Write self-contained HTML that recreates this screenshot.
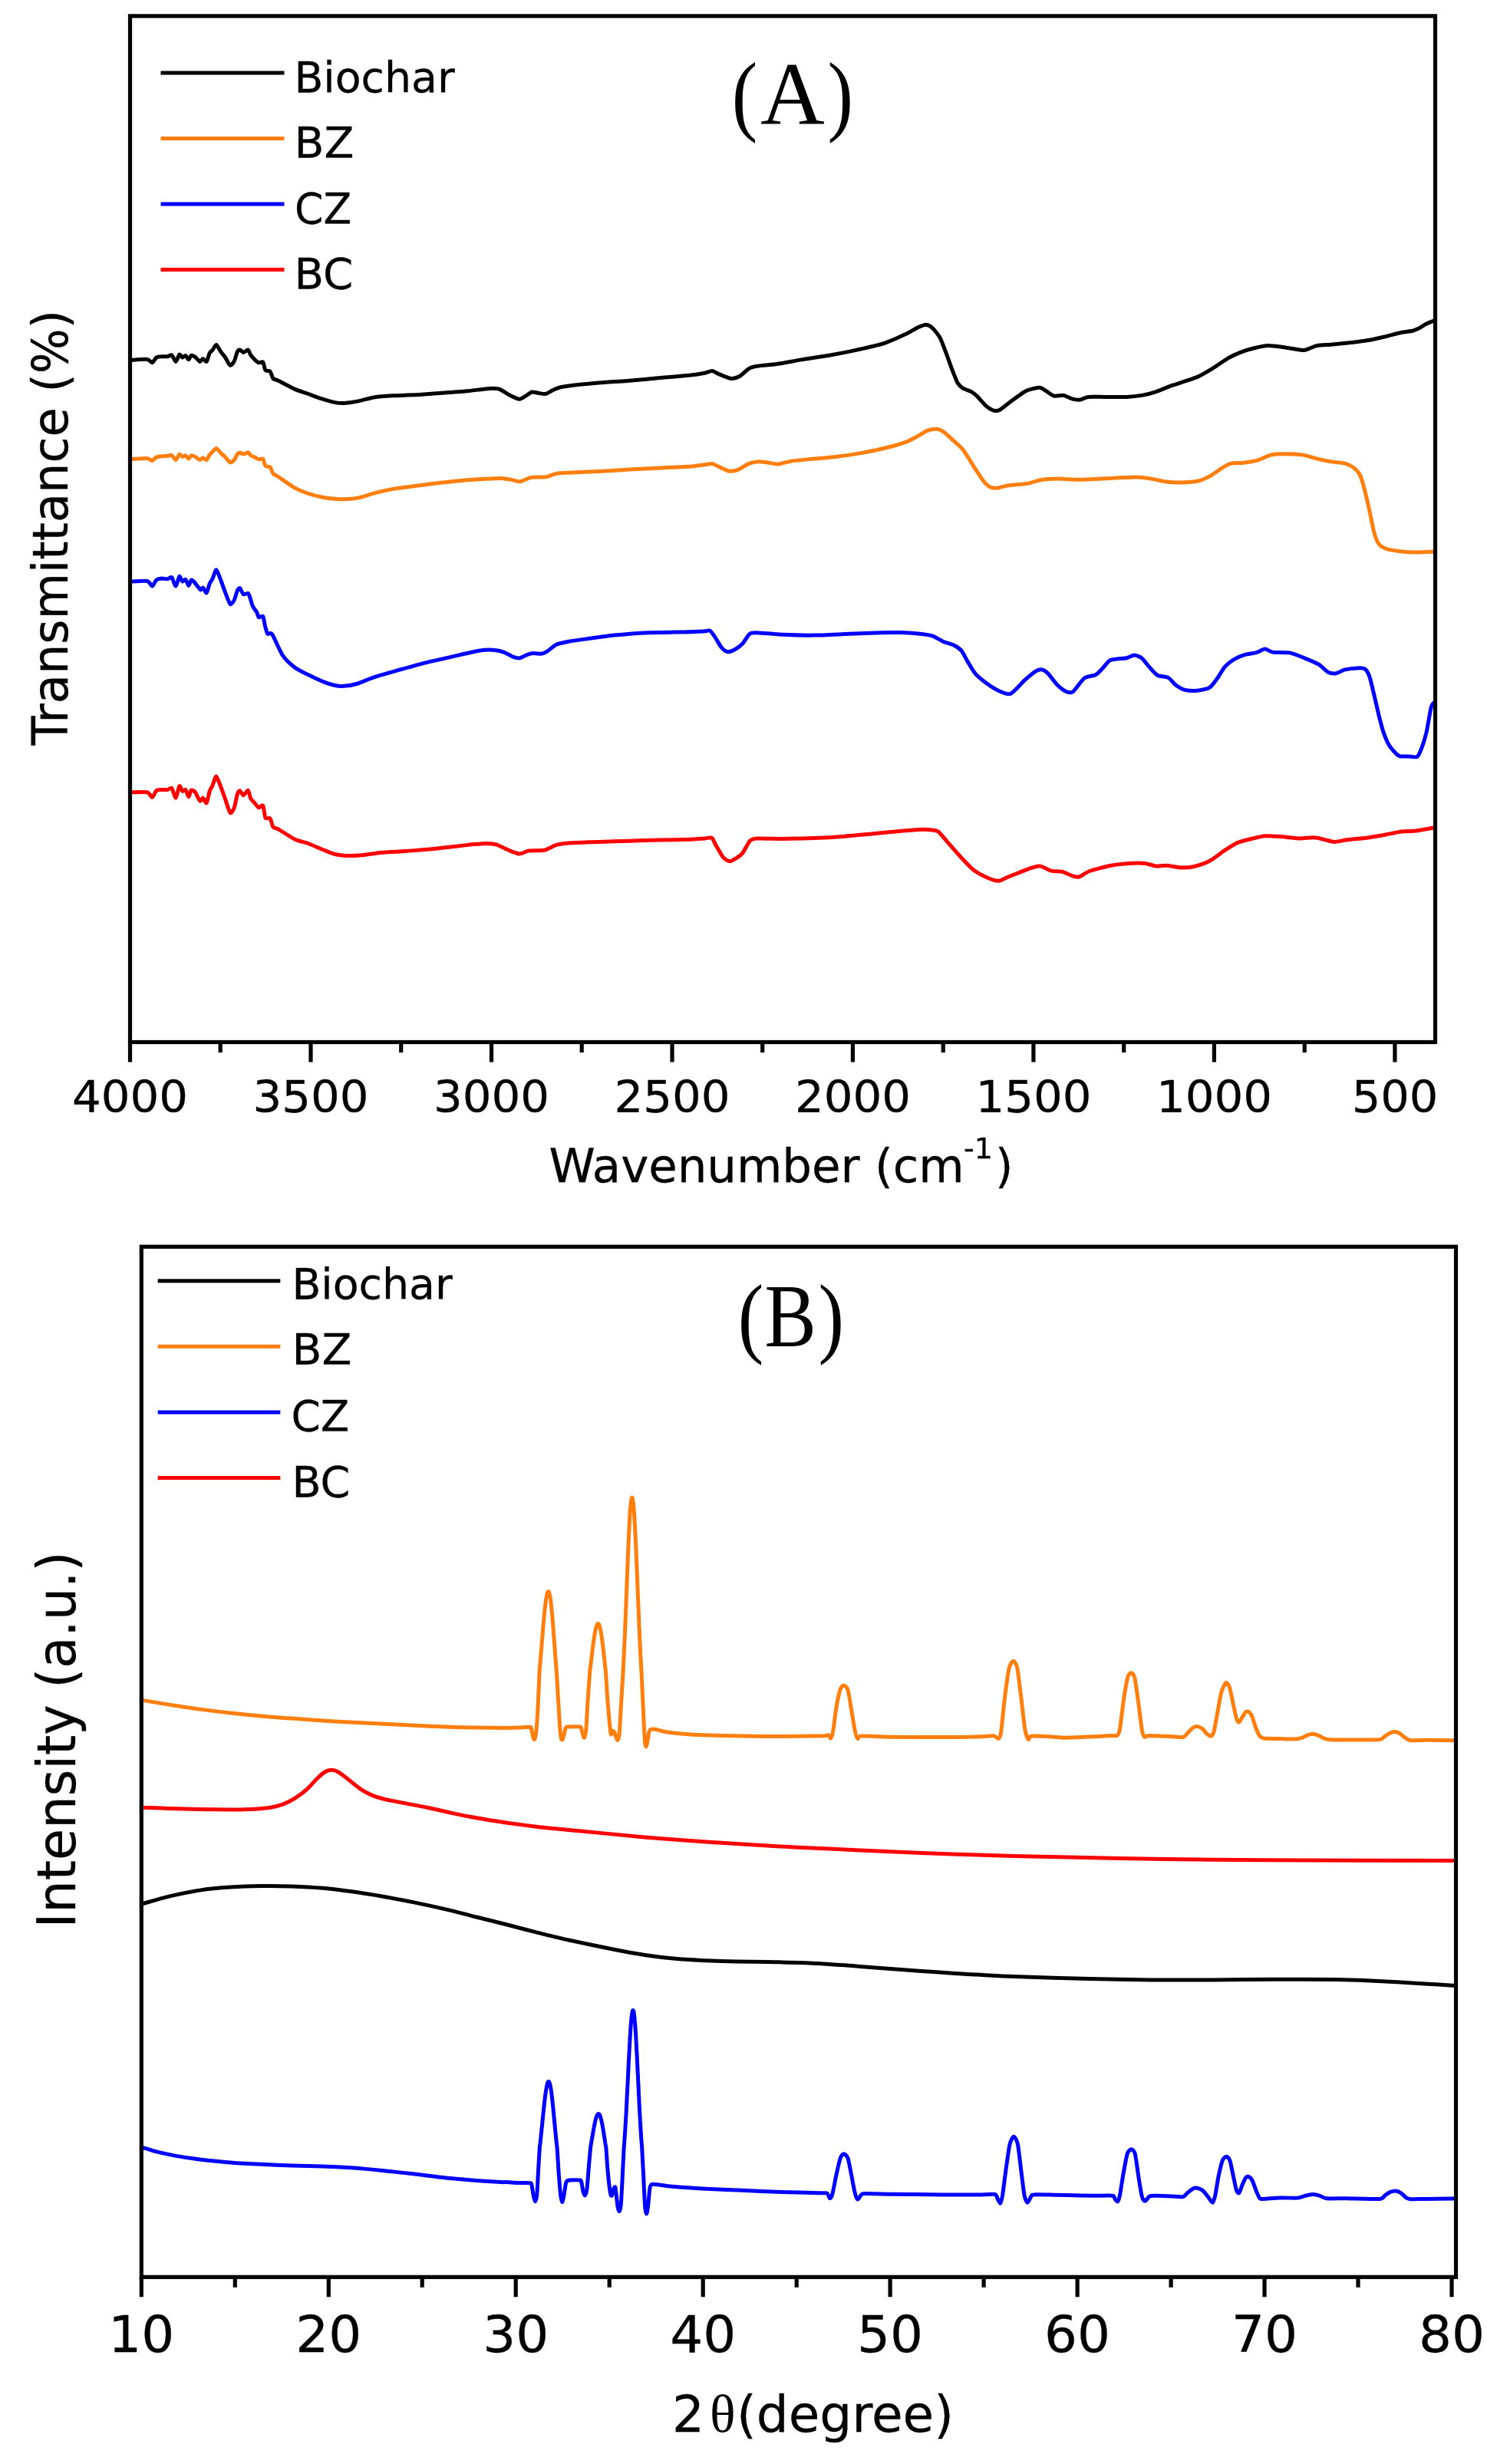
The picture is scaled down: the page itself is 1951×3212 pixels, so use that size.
<!DOCTYPE html>
<html lang="en"><head><meta charset="utf-8"><title>FTIR and XRD</title>
<style>html,body{margin:0;padding:0;background:#fff}svg{display:block;filter:blur(0.6px)}text{font-family:'DejaVu Sans','Liberation Sans',sans-serif;fill:#000;stroke:#000;stroke-width:0.3}.sf{font-family:'Liberation Serif','DejaVu Serif',serif;stroke:none}.c{fill:none;stroke-width:5;stroke-linejoin:round;stroke-linecap:butt}.ax{fill:none;stroke:#000;stroke-width:5.2}.tk{stroke:#000;stroke-width:5.2;fill:none}</style></head><body>
<svg width="1951" height="3212" viewBox="0 0 1951 3212">
<rect width="1951" height="3212" fill="#fff"/>
<g id="chartA">
<path class="c" stroke="#000000" d="M169.5 469.4C172.1 469.3 188.3 468.0 191.7 468.4C195.1 468.8 197.0 473.0 198.4 472.8C199.8 472.5 202.3 467.0 203.7 466.1C205.1 465.2 208.7 464.9 210.4 464.8C212.1 464.6 216.9 465.0 218.4 464.8C220.0 464.5 222.5 462.0 223.8 462.8C225.0 463.5 228.0 471.5 229.1 471.4C230.3 471.4 232.8 462.7 233.8 462.1C234.8 461.5 236.9 465.9 237.8 466.1C238.7 466.2 240.9 463.1 241.8 463.4C242.8 463.7 245.0 468.8 245.8 468.8C246.7 468.8 248.2 463.8 249.2 463.4C250.2 463.0 253.2 464.5 254.5 465.4C255.8 466.4 259.4 471.2 260.5 471.4C261.7 471.7 263.5 467.4 264.5 467.4C265.5 467.4 268.2 472.3 269.2 471.4C270.2 470.6 272.3 461.9 273.2 460.1C274.2 458.3 276.2 457.3 277.2 456.1C278.2 454.8 280.7 449.1 281.9 449.4C283.1 449.7 286.6 456.9 287.9 458.7C289.2 460.6 291.9 463.4 293.3 465.4C294.7 467.5 298.5 475.5 299.9 476.1C301.3 476.7 304.2 472.8 305.3 470.8C306.4 468.7 308.4 460.5 309.3 458.7C310.1 457.0 311.7 456.0 312.6 456.1C313.6 456.2 316.1 459.4 317.3 459.4C318.6 459.4 322.2 455.7 323.3 456.1C324.4 456.5 325.6 461.3 326.7 462.8C327.7 464.2 330.8 467.6 332.0 468.8C333.2 469.9 336.1 472.4 337.3 472.8C338.6 473.2 341.7 470.9 342.7 472.1C343.7 473.3 344.9 481.4 346.0 482.8C347.1 484.2 350.9 482.9 352.0 484.1C353.2 485.4 354.8 492.1 356.0 493.5C357.3 494.9 359.4 494.5 362.7 496.2C366.0 497.8 380.0 505.4 384.4 507.4C388.9 509.4 396.3 511.5 400.5 513.0C404.7 514.5 416.3 518.9 420.5 520.2C424.7 521.6 433.3 524.0 436.6 524.6C439.8 525.3 445.3 525.6 448.6 525.5C451.9 525.3 459.9 524.3 464.6 523.4C469.3 522.6 483.0 518.7 488.7 517.8C494.3 516.9 506.2 516.2 512.7 515.8C519.3 515.5 537.3 515.1 544.8 514.6C552.3 514.2 569.4 512.8 576.8 512.2C584.3 511.7 602.8 510.4 608.9 509.8C615.0 509.3 625.2 507.8 628.9 507.4C632.7 507.0 638.4 506.2 641.0 506.2C643.5 506.2 648.2 506.3 651.0 507.4C653.8 508.5 662.0 513.9 665.0 515.4C668.0 516.9 674.7 520.1 677.0 520.2C679.4 520.3 683.2 517.3 685.1 516.2C686.9 515.2 691.2 511.5 693.1 511.0C694.9 510.6 699.0 511.9 701.1 512.2C703.2 512.5 708.8 513.9 711.1 513.4C713.4 513.0 718.6 509.3 721.1 508.2C723.7 507.1 726.3 505.3 733.1 504.2C740.0 503.1 769.9 499.9 780.1 499.0C790.2 498.1 810.8 496.9 820.2 496.2C829.5 495.4 850.9 493.4 860.2 492.6C869.6 491.7 893.5 489.7 900.3 489.0C907.1 488.2 915.1 486.8 918.4 486.2C921.6 485.5 926.3 483.2 928.4 483.4C930.5 483.5 933.6 486.2 936.4 487.4C939.2 488.5 949.2 493.1 952.4 493.4C955.7 493.7 961.6 491.7 964.4 490.2C967.3 488.6 973.7 481.7 976.5 480.2C979.3 478.6 984.3 477.6 988.5 477.0C992.7 476.3 1006.0 475.5 1012.5 474.5C1019.1 473.6 1036.7 470.2 1044.6 468.9C1052.6 467.6 1072.3 464.8 1080.7 463.3C1089.1 461.8 1108.3 458.0 1116.8 456.1C1125.2 454.2 1145.3 449.7 1152.8 447.3C1160.3 444.9 1175.7 437.7 1180.9 435.3C1186.0 432.8 1193.9 427.9 1196.9 426.5C1200.0 425.1 1204.8 423.2 1206.9 423.2C1209.0 423.3 1212.8 425.3 1214.9 427.3C1217.1 429.2 1222.9 436.2 1225.0 440.1C1227.1 443.9 1231.1 455.2 1233.0 460.1C1234.9 465.0 1239.2 477.6 1241.0 482.2C1242.8 486.7 1246.6 496.6 1248.2 499.4C1249.9 502.2 1253.1 504.9 1255.0 506.2C1257.0 507.5 1262.9 509.1 1265.1 510.2C1267.2 511.4 1270.7 514.0 1273.1 516.2C1275.4 518.4 1282.5 526.9 1285.1 529.1C1287.7 531.3 1293.0 534.5 1295.1 535.1C1297.2 535.7 1300.6 535.6 1303.1 534.3C1305.7 532.9 1313.3 526.3 1317.2 523.4C1321.0 520.6 1332.4 512.2 1336.0 510.2C1339.6 508.2 1345.7 506.8 1348.1 506.2C1350.4 505.7 1354.2 504.9 1356.1 505.4C1357.9 505.9 1362.0 509.0 1364.1 510.2C1366.2 511.5 1371.5 515.6 1374.1 516.2C1376.7 516.8 1383.3 515.0 1386.1 515.4C1388.9 515.9 1395.6 519.6 1398.2 520.2C1400.7 520.9 1405.8 521.4 1408.2 521.0C1410.5 520.7 1414.5 517.9 1418.2 517.4C1421.9 517.0 1434.4 517.4 1440.2 517.4C1446.1 517.4 1462.7 517.7 1468.3 517.4C1473.9 517.2 1484.1 516.1 1488.3 515.4C1492.5 514.7 1499.7 513.0 1504.4 511.4C1509.0 509.9 1521.9 504.5 1528.4 502.2C1535.0 499.9 1554.4 494.0 1560.5 491.4C1566.6 488.8 1575.8 483.0 1580.5 480.2C1585.2 477.3 1596.4 469.4 1600.6 466.9C1604.8 464.5 1612.4 460.9 1616.6 459.3C1620.8 457.7 1632.4 454.3 1636.6 453.3C1640.8 452.3 1648.9 450.6 1652.7 450.5C1656.4 450.4 1665.0 451.6 1668.7 452.1C1672.4 452.6 1681.2 454.0 1684.7 454.5C1688.2 455.0 1696.2 456.6 1698.8 456.5C1701.3 456.5 1704.7 454.8 1706.8 454.1C1708.9 453.4 1713.3 451.1 1716.8 450.5C1720.3 449.9 1731.7 449.4 1736.8 448.9C1742.0 448.4 1755.3 447.1 1760.9 446.5C1766.5 445.8 1779.8 444.2 1784.9 443.3C1790.1 442.4 1800.3 440.0 1805.0 438.9C1809.6 437.8 1820.8 434.6 1825.0 433.7C1829.2 432.8 1838.2 431.9 1841.0 431.3C1843.8 430.6 1847.0 429.1 1849.1 428.1C1851.2 427.0 1856.7 423.2 1859.1 422.0C1861.4 420.9 1867.9 418.5 1869.1 418.0"/>
<path class="c" stroke="#FF7F0E" d="M169.5 598.4C172.1 598.3 188.3 597.2 191.7 597.4C195.1 597.7 197.0 600.7 198.4 600.5C199.8 600.3 202.3 596.8 203.7 596.1C205.1 595.4 208.7 594.9 210.4 594.8C212.1 594.6 216.9 594.6 218.4 594.5C220.0 594.3 222.5 592.8 223.8 593.4C225.0 594.0 228.0 599.6 229.1 599.4C230.3 599.3 232.8 592.6 233.8 592.1C234.8 591.6 236.9 595.2 237.8 595.4C238.7 595.6 240.9 593.5 241.8 593.8C242.8 594.1 245.0 598.1 245.8 598.1C246.7 598.1 248.2 594.1 249.2 593.8C250.2 593.5 253.2 594.8 254.5 595.4C255.8 596.1 259.4 599.3 260.5 599.4C261.7 599.6 263.5 596.7 264.5 596.8C265.5 596.8 268.2 600.2 269.2 599.7C270.2 599.2 272.3 594.0 273.2 592.8C274.2 591.5 276.2 589.7 277.2 588.7C278.2 587.8 280.7 584.2 281.9 584.5C283.1 584.7 286.6 589.5 287.9 590.7C289.2 592.0 291.9 594.0 293.3 595.4C294.7 596.8 298.5 602.3 299.9 602.8C301.3 603.2 304.2 600.7 305.3 599.4C306.4 598.2 308.4 593.2 309.3 592.1C310.1 591.0 311.7 590.1 312.6 590.1C313.6 590.1 316.1 592.1 317.3 592.1C318.6 592.1 322.2 589.7 323.3 589.8C324.4 590.0 325.6 592.7 326.7 593.4C327.7 594.2 330.8 595.5 332.0 596.1C333.2 596.7 336.1 598.5 337.3 598.8C338.6 599.0 341.7 597.1 342.7 598.1C343.7 599.1 344.9 606.2 346.0 607.4C347.1 608.7 350.9 607.6 352.0 608.8C353.2 610.0 354.8 616.0 356.0 617.5C357.3 618.9 359.4 619.3 362.7 621.5C366.0 623.7 380.0 633.7 384.4 636.2C388.9 638.7 396.3 641.6 400.5 643.0C404.7 644.4 415.8 647.3 420.5 648.2C425.2 649.1 436.8 650.3 440.6 650.6C444.3 650.9 449.3 650.9 452.6 650.6C455.9 650.4 464.4 649.6 468.6 648.6C472.8 647.7 483.5 643.9 488.7 642.6C493.8 641.3 506.2 638.5 512.7 637.4C519.3 636.3 537.3 634.0 544.8 633.0C552.3 632.0 569.4 629.8 576.8 629.0C584.3 628.1 602.4 626.3 608.9 625.8C615.4 625.2 627.8 624.4 632.9 624.2C638.1 623.9 649.2 623.3 653.0 623.4C656.7 623.5 662.2 624.5 665.0 625.0C667.8 625.5 674.7 627.8 677.0 627.8C679.4 627.8 683.2 625.6 685.1 625.0C686.9 624.3 690.0 622.5 693.1 622.2C696.1 621.8 707.4 622.3 711.1 621.8C714.8 621.2 721.6 618.0 725.1 617.4C728.6 616.7 734.8 616.5 741.2 616.2C747.6 615.8 770.9 615.0 780.1 614.5C789.3 614.1 810.8 612.7 820.2 612.1C829.5 611.6 850.9 610.6 860.2 610.1C869.6 609.7 893.5 608.7 900.3 608.1C907.1 607.6 915.1 606.2 918.4 605.7C921.6 605.3 926.3 604.2 928.4 604.5C930.5 604.8 933.8 607.0 936.4 608.1C939.0 609.3 947.4 613.7 950.4 614.1C953.5 614.6 959.4 613.3 962.4 612.1C965.5 611.0 973.4 605.3 976.5 604.1C979.5 602.9 985.7 601.9 988.5 601.7C991.3 601.6 997.5 602.6 1000.5 602.9C1003.6 603.3 1010.8 605.2 1014.5 604.9C1018.3 604.7 1027.2 601.7 1032.6 600.9C1038.0 600.1 1053.6 598.8 1060.6 598.1C1067.7 597.4 1085.2 595.8 1092.7 594.9C1100.2 594.0 1117.3 591.5 1124.8 590.1C1132.3 588.7 1150.3 584.9 1156.8 583.3C1163.4 581.6 1176.2 577.8 1180.9 576.1C1185.6 574.3 1193.6 569.8 1196.9 568.1C1200.2 566.3 1206.1 562.3 1208.9 561.2C1211.7 560.2 1218.6 559.1 1221.0 559.2C1223.3 559.4 1226.6 560.9 1229.0 562.4C1231.3 564.0 1238.0 570.1 1241.0 572.9C1244.0 575.6 1251.8 582.0 1255.0 586.1C1258.3 590.2 1266.0 603.5 1269.1 608.1C1272.1 612.8 1278.7 623.1 1281.1 626.2C1283.5 629.3 1287.8 633.4 1289.9 634.6C1292.0 635.8 1296.4 636.4 1299.1 636.2C1301.8 636.0 1308.4 633.7 1313.1 633.0C1317.9 632.3 1335.0 631.0 1340.0 630.1C1345.0 629.3 1351.4 626.4 1356.1 625.7C1360.7 625.0 1374.0 624.2 1380.1 624.1C1386.2 624.1 1401.2 625.4 1408.2 625.3C1415.2 625.3 1431.8 624.1 1440.2 623.7C1448.7 623.4 1473.3 622.1 1480.3 622.1C1487.3 622.2 1495.7 623.4 1500.4 624.1C1505.0 624.8 1515.7 627.6 1520.4 628.1C1525.1 628.7 1535.8 629.0 1540.4 628.9C1545.1 628.8 1556.3 628.3 1560.5 627.3C1564.7 626.4 1572.8 622.9 1576.5 620.9C1580.3 618.9 1589.3 612.1 1592.5 610.1C1595.8 608.1 1601.3 604.9 1604.6 604.1C1607.8 603.3 1616.6 603.8 1620.6 603.3C1624.6 602.8 1634.4 601.3 1638.6 600.1C1642.8 598.9 1652.7 593.8 1656.7 592.9C1660.6 591.9 1668.0 591.7 1672.7 591.7C1677.4 591.7 1691.6 592.1 1696.8 592.9C1701.9 593.6 1712.1 597.0 1716.8 598.1C1721.5 599.2 1732.6 601.4 1736.8 602.1C1741.0 602.8 1749.6 603.2 1752.9 604.1C1756.1 605.0 1762.6 608.2 1764.9 610.1C1767.2 612.0 1771.3 616.6 1772.9 620.1C1774.5 623.6 1777.5 634.8 1778.9 640.2C1780.3 645.5 1783.5 659.9 1784.9 666.2C1786.3 672.5 1789.5 689.3 1790.9 694.3C1792.3 699.3 1795.1 706.6 1797.0 709.1C1798.8 711.6 1803.7 714.4 1807.0 715.5C1810.2 716.6 1820.6 718.2 1825.0 718.7C1829.5 719.2 1839.9 719.9 1845.1 719.9C1850.2 720.0 1866.3 719.2 1869.1 719.1"/>
<path class="c" stroke="#0000FF" d="M169.5 758.1C172.1 758.0 188.3 756.7 191.7 757.4C195.1 758.1 197.0 764.2 198.4 764.1C199.8 763.9 202.3 757.2 203.7 756.1C205.1 754.9 208.7 754.2 210.4 754.0C212.1 753.9 216.9 754.9 218.4 754.7C220.0 754.6 222.5 751.6 223.8 752.7C225.0 753.8 228.0 764.2 229.1 764.1C230.3 763.9 232.8 752.1 233.8 751.4C234.8 750.7 236.9 757.6 237.8 758.1C238.7 758.5 240.9 754.8 241.8 755.4C242.8 756.0 245.0 763.3 245.8 763.4C246.7 763.5 248.3 756.6 249.2 756.1C250.0 755.5 251.8 757.2 253.2 758.7C254.6 760.2 259.9 767.9 261.2 768.7C262.5 769.6 263.6 765.6 264.5 766.1C265.5 766.5 268.2 773.4 269.2 772.8C270.2 772.1 272.3 762.9 273.2 760.7C274.2 758.5 276.2 756.2 277.2 754.0C278.2 751.9 280.7 742.4 281.9 742.7C283.1 743.0 286.6 753.4 287.9 756.7C289.2 760.1 291.9 767.8 293.3 771.4C294.7 775.0 298.5 786.2 299.9 787.4C301.3 788.7 304.2 784.1 305.3 782.1C306.4 780.1 308.4 771.9 309.3 770.1C310.1 768.3 311.7 766.2 312.6 766.7C313.6 767.3 316.1 774.0 317.3 774.8C318.6 775.5 322.3 772.9 323.3 773.4C324.3 774.0 325.3 777.5 326.0 779.4C326.7 781.4 328.3 787.9 329.3 790.1C330.3 792.3 333.7 796.4 334.7 798.1C335.6 799.9 336.4 804.2 337.3 804.8C338.3 805.4 341.8 802.2 342.7 803.5C343.6 804.7 344.7 812.9 345.4 815.5C346.1 818.2 347.6 824.9 348.7 826.2C349.8 827.5 352.4 823.6 354.7 826.9C357.0 830.1 364.9 849.2 368.4 854.3C371.9 859.3 380.7 867.4 384.4 870.3C388.2 873.2 396.3 877.0 400.5 879.1C404.7 881.2 416.3 886.7 420.5 888.3C424.7 890.0 433.3 892.8 436.6 893.5C439.8 894.2 445.3 894.6 448.6 894.3C451.9 894.1 459.9 892.9 464.6 891.5C469.3 890.1 482.1 884.5 488.7 882.3C495.2 880.2 513.2 875.2 520.7 873.1C528.2 871.0 545.3 866.2 552.8 864.3C560.3 862.4 578.3 858.6 584.8 857.1C591.4 855.6 603.8 852.6 608.9 851.5C614.0 850.3 624.7 847.9 628.9 847.5C633.1 847.0 641.7 847.1 645.0 847.5C648.2 847.8 654.2 849.2 657.0 850.3C659.8 851.3 666.7 855.4 669.0 856.3C671.4 857.2 674.9 858.2 677.0 857.9C679.1 857.5 684.9 854.2 687.1 853.5C689.2 852.7 693.0 851.6 695.1 851.5C697.2 851.3 703.0 852.5 705.1 852.3C707.2 852.0 710.8 850.5 713.1 849.1C715.4 847.7 721.9 841.7 725.1 840.2C728.4 838.7 736.6 837.1 741.2 836.2C745.7 835.4 757.2 833.9 764.0 832.9C770.9 832.0 791.2 829.1 800.1 828.1C809.0 827.2 830.8 825.4 840.2 824.9C849.6 824.5 871.4 824.4 880.3 824.1C889.2 823.9 911.1 823.2 916.4 822.9C921.6 822.7 923.4 821.3 925.2 822.1C926.9 823.0 929.8 827.6 931.6 830.1C933.4 832.7 938.4 841.9 940.4 844.2C942.4 846.5 946.3 849.5 948.4 849.8C950.5 850.0 956.1 847.5 958.4 846.2C960.8 844.8 966.3 840.5 968.5 838.2C970.7 835.8 974.9 827.7 977.3 826.1C979.6 824.6 983.4 824.8 988.5 824.9C993.5 825.1 1012.1 827.0 1020.6 827.3C1029.0 827.7 1051.3 828.2 1060.6 828.1C1070.0 828.0 1091.4 826.9 1100.7 826.5C1110.1 826.2 1132.4 825.2 1140.8 824.9C1149.2 824.7 1166.3 824.4 1172.9 824.5C1179.4 824.7 1192.0 825.6 1196.9 826.1C1201.8 826.6 1211.2 827.8 1214.9 828.9C1218.7 830.1 1225.7 834.7 1229.0 836.2C1232.3 837.6 1240.2 839.6 1243.0 841.0C1245.8 842.4 1250.9 845.7 1253.0 848.2C1255.1 850.7 1258.9 858.7 1261.0 862.2C1263.1 865.7 1268.3 875.0 1271.1 878.2C1273.9 881.5 1281.6 887.7 1285.1 890.3C1288.6 892.8 1297.4 898.6 1301.1 900.3C1304.9 901.9 1313.1 905.9 1317.2 904.3C1321.2 902.6 1332.2 889.6 1336.0 886.2C1339.9 882.7 1347.5 876.5 1350.1 874.9C1352.6 873.4 1356.2 872.6 1358.1 872.9C1359.9 873.3 1363.8 875.8 1366.1 878.2C1368.4 880.5 1375.3 890.2 1378.1 893.0C1380.9 895.7 1387.8 900.8 1390.1 901.8C1392.5 902.8 1396.3 902.9 1398.2 901.8C1400.0 900.7 1404.3 894.3 1406.2 892.2C1408.0 890.0 1411.6 884.9 1414.2 883.4C1416.8 881.9 1425.6 880.7 1428.2 879.4C1430.8 878.0 1434.1 874.3 1436.2 872.1C1438.3 870.0 1443.9 862.5 1446.3 860.9C1448.6 859.4 1453.7 859.3 1456.3 858.9C1458.8 858.5 1465.7 858.3 1468.3 857.7C1470.9 857.2 1476.0 854.1 1478.3 854.1C1480.7 854.2 1486.0 856.2 1488.3 858.1C1490.7 860.0 1496.0 867.6 1498.4 870.1C1500.7 872.7 1505.6 878.6 1508.4 880.2C1511.2 881.7 1519.6 881.9 1522.4 883.4C1525.2 884.9 1529.9 891.1 1532.4 893.0C1535.0 894.9 1541.2 898.6 1544.4 899.4C1547.7 900.2 1556.7 900.6 1560.5 900.2C1564.2 899.8 1573.5 898.1 1576.5 896.2C1579.6 894.3 1584.2 887.3 1586.5 884.2C1588.9 881.0 1594.0 871.8 1596.6 868.9C1599.1 866.0 1605.5 861.1 1608.6 859.3C1611.6 857.5 1619.3 854.3 1622.6 853.3C1625.9 852.3 1633.6 851.7 1636.6 850.9C1639.7 850.1 1646.1 846.2 1648.7 846.1C1651.2 846.0 1654.9 849.5 1658.7 850.1C1662.4 850.7 1675.8 850.0 1680.7 850.9C1685.6 851.8 1696.3 856.3 1700.8 858.1C1705.2 859.9 1715.3 864.0 1718.8 866.1C1722.3 868.2 1728.2 874.8 1730.8 876.2C1733.4 877.5 1738.3 878.1 1740.8 877.8C1743.4 877.4 1749.6 873.7 1752.9 872.9C1756.1 872.2 1765.9 871.0 1768.9 870.9C1771.9 870.8 1777.0 870.8 1778.9 872.1C1780.8 873.5 1783.5 878.2 1784.9 882.2C1786.3 886.1 1789.5 900.4 1790.9 906.2C1792.3 912.1 1795.6 926.7 1797.0 932.3C1798.4 937.9 1801.3 949.6 1803.0 954.3C1804.6 959.0 1808.6 968.7 1811.0 972.3C1813.3 975.9 1820.0 983.6 1823.0 985.2C1826.0 986.8 1834.2 985.8 1837.0 986.0C1839.8 986.1 1845.2 987.7 1847.1 986.4C1848.9 985.0 1851.7 978.1 1853.1 974.3C1854.5 970.6 1857.7 960.4 1859.1 954.3C1860.5 948.2 1864.0 926.7 1865.1 922.2C1866.2 917.8 1867.8 917.1 1868.3 916.2C1868.8 915.4 1869.4 915.2 1869.5 915.0"/>
<path class="c" stroke="#FF0000" d="M169.5 1033.0C172.1 1033.0 188.3 1032.0 191.7 1032.8C195.1 1033.5 197.0 1039.7 198.4 1039.4C199.8 1039.2 202.3 1031.9 203.7 1030.7C205.1 1029.6 208.7 1029.6 210.4 1029.4C212.1 1029.3 216.9 1029.6 218.4 1029.4C220.0 1029.2 222.5 1026.2 223.8 1027.4C225.0 1028.7 228.0 1040.4 229.1 1040.1C230.3 1039.8 232.8 1025.7 233.8 1024.7C234.8 1023.7 236.9 1030.9 237.8 1031.4C238.7 1032.0 240.9 1028.6 241.8 1029.4C242.8 1030.3 245.0 1038.7 245.8 1038.8C246.7 1038.8 248.2 1030.8 249.2 1030.1C250.2 1029.4 253.2 1031.1 254.5 1032.8C255.8 1034.4 259.4 1043.3 260.5 1044.1C261.7 1045.0 263.5 1039.8 264.5 1040.1C265.5 1040.4 268.2 1047.8 269.2 1046.8C270.2 1045.8 272.3 1034.1 273.2 1031.4C274.2 1028.7 276.2 1025.7 277.2 1023.4C278.2 1021.1 280.7 1011.7 281.9 1012.0C283.1 1012.4 286.6 1022.7 287.9 1026.1C289.2 1029.4 291.9 1036.9 293.3 1040.8C294.7 1044.7 298.5 1058.1 299.9 1059.5C301.3 1060.9 304.2 1055.6 305.3 1052.8C306.4 1050.0 308.4 1038.0 309.3 1035.4C310.1 1032.9 311.7 1030.6 312.6 1030.7C313.6 1030.9 316.1 1036.8 317.3 1036.8C318.6 1036.7 322.2 1029.6 323.3 1030.1C324.4 1030.5 325.6 1038.8 326.7 1040.8C327.7 1042.7 330.8 1045.4 332.0 1046.8C333.2 1048.2 336.1 1052.4 337.3 1052.8C338.6 1053.2 341.7 1048.6 342.7 1050.1C343.7 1051.7 344.9 1064.2 346.0 1066.2C347.1 1068.1 350.9 1065.4 352.0 1066.8C353.2 1068.2 354.8 1076.5 356.0 1078.2C357.3 1079.8 359.4 1079.0 362.7 1080.8C366.0 1082.7 380.0 1092.1 384.4 1094.2C388.9 1096.4 396.3 1097.5 400.5 1099.0C404.7 1100.6 416.3 1105.8 420.5 1107.5C424.7 1109.1 432.8 1112.5 436.6 1113.5C440.3 1114.4 448.4 1115.3 452.6 1115.5C456.8 1115.6 467.5 1115.1 472.6 1114.7C477.8 1114.2 490.1 1112.1 496.7 1111.5C503.2 1110.9 521.3 1110.0 528.7 1109.5C536.2 1108.9 553.3 1107.8 560.8 1107.1C568.3 1106.4 586.3 1104.2 592.9 1103.4C599.4 1102.7 612.0 1101.1 616.9 1100.6C621.8 1100.2 631.4 1099.4 634.9 1099.4C638.5 1099.5 643.7 1100.0 647.0 1101.0C650.2 1102.1 659.5 1106.9 663.0 1108.3C666.5 1109.7 674.0 1113.0 677.0 1113.1C680.1 1113.2 685.3 1109.6 689.1 1109.1C692.8 1108.5 704.9 1109.1 709.1 1108.3C713.3 1107.4 721.4 1102.5 725.1 1101.4C728.9 1100.4 734.8 1099.5 741.2 1099.0C747.6 1098.6 770.9 1097.7 780.1 1097.4C789.3 1097.1 810.8 1096.5 820.2 1096.2C829.5 1095.9 850.9 1095.2 860.2 1095.0C869.6 1094.8 893.5 1094.4 900.3 1094.2C907.1 1094.0 915.2 1093.2 918.4 1093.0C921.5 1092.8 925.8 1091.1 927.6 1092.2C929.3 1093.3 931.5 1099.3 933.2 1102.2C934.9 1105.2 940.4 1115.1 942.4 1117.4C944.4 1119.8 948.6 1122.4 950.4 1122.6C952.3 1122.9 956.4 1120.7 958.4 1119.4C960.4 1118.2 965.5 1114.9 967.7 1112.2C969.9 1109.5 975.1 1098.4 977.3 1096.2C979.5 1093.9 981.4 1093.3 986.5 1093.0C991.5 1092.7 1011.9 1093.4 1020.6 1093.4C1029.2 1093.3 1051.3 1093.0 1060.6 1092.6C1070.0 1092.2 1091.4 1090.9 1100.7 1090.2C1110.1 1089.5 1132.4 1087.4 1140.8 1086.6C1149.2 1085.8 1166.3 1084.0 1172.9 1083.4C1179.4 1082.8 1192.2 1081.5 1196.9 1081.4C1201.6 1081.2 1209.9 1081.4 1212.9 1081.8C1216.0 1082.1 1220.2 1082.0 1223.0 1084.2C1225.8 1086.3 1233.5 1096.2 1237.0 1100.2C1240.5 1104.2 1249.3 1114.3 1253.0 1118.2C1256.8 1122.2 1265.1 1131.2 1269.1 1134.3C1273.0 1137.3 1283.4 1142.7 1287.1 1144.3C1290.8 1145.9 1298.1 1148.4 1301.1 1148.3C1304.2 1148.2 1309.1 1145.1 1313.1 1143.5C1317.2 1141.9 1332.0 1135.8 1336.0 1134.3C1340.1 1132.7 1345.7 1130.9 1348.1 1130.3C1350.4 1129.7 1353.5 1128.5 1356.1 1129.1C1358.6 1129.6 1366.8 1134.2 1370.1 1135.1C1373.4 1135.9 1380.9 1135.5 1384.1 1136.3C1387.4 1137.1 1395.6 1141.1 1398.2 1141.9C1400.7 1142.7 1403.6 1143.8 1406.2 1143.1C1408.7 1142.3 1415.3 1137.2 1420.2 1135.5C1425.1 1133.7 1442.2 1129.4 1448.3 1128.3C1454.3 1127.1 1467.2 1125.8 1472.3 1125.5C1477.4 1125.1 1488.4 1125.0 1492.3 1125.5C1496.3 1125.9 1503.1 1128.7 1506.4 1129.1C1509.6 1129.4 1516.4 1128.0 1520.4 1128.3C1524.4 1128.5 1536.2 1130.9 1540.4 1131.1C1544.6 1131.2 1552.3 1130.5 1556.5 1129.5C1560.7 1128.4 1571.8 1124.7 1576.5 1122.2C1581.2 1119.8 1592.3 1111.0 1596.6 1108.2C1600.8 1105.5 1608.4 1100.4 1612.6 1098.6C1616.8 1096.8 1628.4 1094.0 1632.6 1093.0C1636.8 1092.0 1644.4 1090.1 1648.7 1089.8C1652.9 1089.5 1663.6 1090.2 1668.7 1090.6C1673.8 1091.0 1687.6 1092.8 1692.7 1093.0C1697.9 1093.1 1709.0 1091.6 1712.8 1091.8C1716.5 1091.9 1721.8 1093.5 1724.8 1094.2C1727.8 1094.8 1735.1 1097.3 1738.8 1097.4C1742.6 1097.4 1752.0 1095.2 1756.9 1094.6C1761.8 1094.0 1775.3 1092.9 1780.9 1092.2C1786.5 1091.4 1799.8 1089.1 1805.0 1088.2C1810.1 1087.2 1820.3 1084.8 1825.0 1084.2C1829.7 1083.6 1840.0 1083.6 1845.1 1083.0C1850.1 1082.4 1865.4 1079.5 1868.3 1079.0C1869.5 1078.4 1869.4 1078.2 1869.5 1078.2"/>
<rect class="ax" x="169.5" y="20.9" width="1701.0" height="1337.6"/>
<path class="tk" d="M169.5 1358.5v26M405.0 1358.5v26M640.5 1358.5v26M876.0 1358.5v26M1111.4 1358.5v26M1346.9 1358.5v26M1582.4 1358.5v26M1817.9 1358.5v26M287.2 1358.5v13.5M522.7 1358.5v13.5M758.2 1358.5v13.5M993.7 1358.5v13.5M1229.2 1358.5v13.5M1464.7 1358.5v13.5M1700.2 1358.5v13.5"/>
<text x="169.5" y="1450.0" font-size="56.8" text-anchor="middle" textLength="151.0" lengthAdjust="spacingAndGlyphs">4000</text>
<text x="405.0" y="1450.0" font-size="56.8" text-anchor="middle" textLength="151.0" lengthAdjust="spacingAndGlyphs">3500</text>
<text x="640.5" y="1450.0" font-size="56.8" text-anchor="middle" textLength="151.0" lengthAdjust="spacingAndGlyphs">3000</text>
<text x="876.0" y="1450.0" font-size="56.8" text-anchor="middle" textLength="151.0" lengthAdjust="spacingAndGlyphs">2500</text>
<text x="1111.4" y="1450.0" font-size="56.8" text-anchor="middle" textLength="151.0" lengthAdjust="spacingAndGlyphs">2000</text>
<text x="1346.9" y="1450.0" font-size="56.8" text-anchor="middle" textLength="151.0" lengthAdjust="spacingAndGlyphs">1500</text>
<text x="1582.4" y="1450.0" font-size="56.8" text-anchor="middle" textLength="151.0" lengthAdjust="spacingAndGlyphs">1000</text>
<text x="1817.9" y="1450.0" font-size="56.8" text-anchor="middle" textLength="112.5" lengthAdjust="spacingAndGlyphs">500</text>
<text y="1541" font-size="60"><tspan x="715.5" textLength="541" lengthAdjust="spacingAndGlyphs">Wavenumber (cm</tspan><tspan x="1256" y="1510" font-size="38">-1</tspan><tspan x="1297" y="1541">)</tspan></text>
<text transform="translate(88.4 971.5) rotate(-90)" font-size="64" textLength="567.5" lengthAdjust="spacingAndGlyphs">Transmittance (%)</text>
<path class="c" stroke="#000000" d="M209.5 95.0H370.5"/>
<text x="383.4" y="119.7" font-size="56.0" textLength="209.4" lengthAdjust="spacingAndGlyphs">Biochar</text>
<path class="c" stroke="#FF7F0E" d="M209.5 180.5H370.5"/>
<text x="383.4" y="205.4" font-size="56.0" textLength="78.0" lengthAdjust="spacingAndGlyphs">BZ</text>
<path class="c" stroke="#0000FF" d="M209.5 266.0H370.5"/>
<text x="384.0" y="290.5" font-size="56.0" textLength="74.2" lengthAdjust="spacingAndGlyphs">CZ</text>
<path class="c" stroke="#FF0000" d="M209.5 351.5H370.5"/>
<text x="383.4" y="376.0" font-size="56.0" textLength="77.0" lengthAdjust="spacingAndGlyphs">BC</text>
<text class="sf" y="162" font-size="116"><tspan x="953.7" textLength="33.5" lengthAdjust="spacingAndGlyphs">(</tspan><tspan x="991">A</tspan><tspan x="1078.5" textLength="33.5" lengthAdjust="spacingAndGlyphs">)</tspan></text>
</g>
<g id="chartB">
<path class="c" stroke="#0000FF" d="M184.3 2798.9C186.6 2799.6 198.9 2803.6 204.0 2804.9C209.2 2806.2 221.5 2808.9 228.1 2810.1C234.6 2811.3 251.7 2813.9 260.2 2814.9C268.6 2815.9 290.9 2818.2 300.2 2818.9C309.6 2819.7 331.0 2820.9 340.3 2821.3C349.7 2821.8 371.0 2822.6 380.4 2822.9C389.8 2823.3 411.1 2823.8 420.5 2824.1C429.8 2824.5 451.2 2825.5 460.6 2826.1C469.9 2826.8 491.3 2828.8 500.6 2829.7C510.0 2830.7 531.4 2833.1 540.7 2834.1C550.1 2835.2 571.4 2838.0 580.8 2839.0C590.2 2839.9 612.5 2841.9 620.9 2842.6C629.3 2843.2 648.4 2844.3 652.9 2844.6C657.5 2844.8 657.3 2844.5 660.0 2844.6C662.7 2844.7 672.4 2845.4 676.0 2845.5C679.7 2845.7 689.3 2845.2 691.3 2845.7C693.2 2846.2 692.7 2847.7 693.2 2849.7C693.7 2851.7 694.7 2860.2 695.3 2862.5C695.8 2864.9 697.2 2869.9 697.7 2869.7C698.2 2869.6 699.3 2865.3 699.8 2860.9C700.2 2856.5 701.0 2839.2 701.4 2832.1C701.8 2825.0 703.0 2804.3 703.3 2800.0C703.6 2795.7 703.7 2796.3 703.9 2795.2C704.0 2794.0 704.3 2791.3 704.4 2790.1C704.6 2788.9 704.9 2786.1 705.0 2784.9C705.1 2783.6 705.4 2780.7 705.6 2779.4C705.7 2778.2 706.0 2775.2 706.1 2773.9C706.3 2772.6 706.6 2769.6 706.7 2768.2C706.8 2766.9 707.1 2763.9 707.3 2762.6C707.4 2761.2 707.7 2758.2 707.8 2756.9C708.0 2755.6 708.3 2752.6 708.4 2751.4C708.5 2750.1 708.8 2747.2 709.0 2746.0C709.1 2744.7 709.4 2741.9 709.5 2740.8C709.7 2739.6 710.0 2737.0 710.1 2735.9C710.2 2734.8 710.6 2732.3 710.7 2731.3C710.8 2730.3 711.1 2728.1 711.3 2727.2C711.4 2726.2 711.7 2724.3 711.8 2723.5C712.0 2722.7 712.3 2721.0 712.4 2720.3C712.5 2719.6 712.8 2718.2 713.0 2717.7C713.1 2717.2 713.4 2716.1 713.5 2715.7C713.7 2715.3 714.0 2714.6 714.1 2714.3C714.2 2714.1 714.5 2713.7 714.7 2713.6C714.8 2713.5 715.1 2713.5 715.2 2713.6C715.4 2713.6 715.7 2714.0 715.8 2714.3C715.9 2714.5 716.2 2715.3 716.4 2715.7C716.5 2716.1 716.8 2717.2 716.9 2717.8C717.1 2718.4 717.4 2719.9 717.5 2720.6C717.6 2721.3 718.0 2723.2 718.1 2724.0C718.2 2724.9 718.5 2727.0 718.7 2728.0C718.8 2729.0 719.1 2731.4 719.2 2732.6C719.4 2733.7 719.7 2736.3 719.8 2737.5C719.9 2738.7 720.2 2741.5 720.4 2742.8C720.5 2744.1 720.8 2747.1 720.9 2748.4C721.1 2749.8 721.4 2752.9 721.5 2754.2C721.6 2755.6 721.9 2758.8 722.1 2760.2C722.2 2761.6 722.5 2764.8 722.6 2766.2C722.8 2767.6 723.1 2770.8 723.2 2772.2C723.3 2773.6 723.6 2776.8 723.8 2778.1C723.9 2779.5 724.2 2782.6 724.3 2783.9C724.5 2785.2 724.8 2788.2 724.9 2789.5C725.0 2790.8 725.4 2793.7 725.5 2794.9C725.6 2796.1 725.7 2795.7 726.1 2800.0C726.4 2804.3 727.6 2825.0 728.1 2832.1C728.7 2839.2 730.0 2856.4 730.5 2860.9C731.1 2865.4 732.4 2870.7 732.9 2870.5C733.5 2870.4 734.8 2862.3 735.4 2859.3C735.9 2856.3 737.0 2846.9 737.8 2844.9C738.5 2842.9 739.6 2842.3 741.8 2842.0C743.9 2841.7 754.3 2841.5 756.2 2842.0C758.1 2842.5 757.6 2844.7 758.1 2846.5C758.6 2848.3 759.7 2855.9 760.2 2857.7C760.7 2859.5 762.0 2862.3 762.6 2861.7C763.2 2861.2 764.4 2857.3 765.0 2852.9C765.6 2848.5 766.9 2830.2 767.4 2824.0C767.9 2817.9 769.2 2803.2 769.5 2800.0C769.8 2796.8 769.9 2797.7 770.0 2797.0C770.1 2796.3 770.4 2794.6 770.5 2793.9C770.6 2793.2 770.9 2791.6 771.0 2790.8C771.1 2790.1 771.4 2788.5 771.5 2787.7C771.7 2787.0 771.9 2785.4 772.0 2784.7C772.2 2784.0 772.4 2782.4 772.6 2781.7C772.7 2781.0 772.9 2779.4 773.1 2778.7C773.2 2778.0 773.5 2776.5 773.6 2775.8C773.7 2775.2 774.0 2773.7 774.1 2773.1C774.2 2772.4 774.5 2771.0 774.6 2770.4C774.7 2769.8 775.0 2768.5 775.1 2768.0C775.2 2767.4 775.5 2766.2 775.6 2765.6C775.7 2765.1 776.0 2764.0 776.1 2763.5C776.2 2763.1 776.5 2762.1 776.6 2761.6C776.7 2761.2 777.0 2760.3 777.1 2760.0C777.3 2759.6 777.5 2758.8 777.6 2758.5C777.8 2758.2 778.0 2757.6 778.2 2757.4C778.3 2757.1 778.5 2756.7 778.7 2756.5C778.8 2756.3 779.1 2756.0 779.2 2755.9C779.3 2755.8 779.6 2755.6 779.7 2755.6C779.8 2755.5 780.1 2755.5 780.2 2755.5C780.3 2755.6 780.6 2755.7 780.7 2755.8C780.8 2755.9 781.1 2756.2 781.2 2756.4C781.3 2756.6 781.6 2757.1 781.7 2757.3C781.8 2757.6 782.1 2758.3 782.2 2758.6C782.3 2758.9 782.6 2759.7 782.7 2760.1C782.9 2760.5 783.1 2761.5 783.2 2761.9C783.4 2762.4 783.6 2763.5 783.8 2764.0C783.9 2764.5 784.1 2765.7 784.3 2766.3C784.4 2766.8 784.7 2768.2 784.8 2768.8C784.9 2769.4 785.2 2770.9 785.3 2771.5C785.4 2772.2 785.7 2773.7 785.8 2774.4C785.9 2775.1 786.2 2776.7 786.3 2777.4C786.4 2778.1 786.7 2779.8 786.8 2780.5C786.9 2781.2 787.2 2782.9 787.3 2783.7C787.4 2784.5 787.7 2786.2 787.8 2786.9C787.9 2787.7 788.2 2789.5 788.3 2790.2C788.5 2791.0 788.7 2792.7 788.8 2793.5C789.0 2794.3 789.2 2796.0 789.4 2796.8C789.5 2797.5 789.5 2795.9 789.9 2800.0C790.2 2804.1 791.6 2825.1 792.3 2832.1C792.9 2839.0 794.9 2855.9 795.5 2859.3C796.1 2862.8 797.1 2862.5 797.6 2861.7C798.1 2861.0 799.3 2854.1 799.8 2852.9C800.3 2851.7 801.5 2850.0 801.9 2851.3C802.3 2852.6 803.1 2861.1 803.5 2864.1C803.9 2867.1 804.7 2874.8 805.1 2877.0C805.5 2879.1 806.7 2883.1 807.2 2882.6C807.7 2882.0 808.9 2878.0 809.4 2872.1C809.9 2866.3 811.1 2840.5 811.5 2832.1C811.9 2823.6 812.9 2804.6 813.1 2800.0C813.4 2795.4 813.6 2794.3 813.7 2792.4C813.8 2790.6 814.1 2786.1 814.3 2784.1C814.4 2782.1 814.7 2777.2 814.9 2775.0C815.0 2772.8 815.3 2767.5 815.5 2765.1C815.6 2762.7 815.9 2757.1 816.1 2754.6C816.2 2752.1 816.5 2746.1 816.6 2743.5C816.8 2740.9 817.1 2734.7 817.2 2731.9C817.4 2729.2 817.7 2722.8 817.8 2720.0C818.0 2717.2 818.3 2710.8 818.4 2708.0C818.5 2705.1 818.9 2698.7 819.0 2695.9C819.1 2693.1 819.4 2686.8 819.6 2684.1C819.7 2681.4 820.0 2675.2 820.2 2672.7C820.3 2670.1 820.6 2664.3 820.8 2661.9C820.9 2659.5 821.2 2654.1 821.4 2652.0C821.5 2649.8 821.8 2645.0 821.9 2643.1C822.1 2641.2 822.4 2637.1 822.5 2635.5C822.7 2633.9 823.0 2630.6 823.1 2629.3C823.3 2628.1 823.6 2625.6 823.7 2624.7C823.8 2623.8 824.2 2622.2 824.3 2621.7C824.4 2621.3 824.8 2620.6 824.9 2620.5C825.0 2620.5 825.3 2620.8 825.5 2621.1C825.6 2621.5 825.9 2622.7 826.1 2623.5C826.2 2624.3 826.5 2626.5 826.7 2627.7C826.8 2628.8 827.1 2631.9 827.2 2633.5C827.4 2635.0 827.7 2638.9 827.8 2640.8C828.0 2642.7 828.3 2647.3 828.4 2649.5C828.6 2651.7 828.9 2656.9 829.0 2659.4C829.2 2661.8 829.5 2667.5 829.6 2670.1C829.7 2672.7 830.1 2678.9 830.2 2681.7C830.3 2684.4 830.6 2690.8 830.8 2693.6C830.9 2696.5 831.2 2703.0 831.4 2705.9C831.5 2708.8 831.8 2715.4 832.0 2718.2C832.1 2721.1 832.4 2727.6 832.5 2730.4C832.7 2733.2 833.0 2739.5 833.1 2742.2C833.3 2744.9 833.6 2751.0 833.7 2753.6C833.9 2756.2 834.2 2761.9 834.3 2764.4C834.5 2766.8 834.8 2772.2 834.9 2774.4C835.0 2776.7 835.4 2781.7 835.5 2783.8C835.6 2785.8 835.9 2790.4 836.1 2792.3C836.2 2794.2 836.4 2794.4 836.7 2800.0C837.0 2805.6 838.3 2831.1 838.8 2840.1C839.2 2849.1 840.2 2871.6 840.7 2877.0C841.1 2882.3 842.3 2886.1 842.8 2885.8C843.3 2885.4 844.4 2877.6 844.8 2873.7C845.3 2869.9 846.3 2855.9 846.8 2852.9C847.2 2849.9 848.2 2848.4 848.9 2847.8C849.5 2847.1 850.1 2847.1 852.4 2847.3C854.7 2847.5 864.7 2848.9 868.4 2849.4C872.2 2849.8 879.0 2850.6 884.4 2851.0C889.9 2851.4 905.1 2852.4 914.7 2852.9C924.3 2853.4 954.7 2854.8 966.8 2855.3C979.0 2855.9 1007.2 2857.0 1018.9 2857.4C1030.7 2857.8 1060.7 2858.6 1067.6 2858.8C1074.5 2859.0 1076.4 2858.3 1078.0 2859.1C1079.6 2860.0 1080.7 2865.7 1081.5 2865.7C1082.3 2865.8 1083.9 2863.6 1084.9 2859.8C1086.0 2856.1 1088.9 2839.3 1090.2 2833.8C1091.4 2828.3 1094.2 2816.0 1095.4 2812.9C1096.5 2809.9 1098.7 2807.7 1099.9 2807.7C1101.0 2807.8 1103.9 2810.2 1105.1 2813.6C1106.3 2817.1 1108.9 2831.9 1110.0 2837.3C1111.0 2842.7 1113.5 2856.4 1114.5 2859.8C1115.4 2863.3 1117.1 2866.9 1117.9 2867.1C1118.8 2867.3 1121.1 2862.5 1122.1 2861.6C1123.1 2860.7 1122.5 2859.7 1126.6 2859.5C1130.8 2859.3 1146.1 2860.0 1157.9 2860.2C1169.6 2860.3 1213.2 2860.8 1227.4 2860.9C1241.5 2861.0 1271.4 2860.9 1279.5 2860.9C1287.6 2860.8 1294.4 2859.8 1296.8 2860.5C1299.3 2861.2 1299.5 2865.4 1300.3 2866.8C1301.1 2868.1 1303.1 2872.6 1303.8 2872.0C1304.5 2871.4 1305.7 2866.4 1306.6 2861.6C1307.4 2856.7 1309.6 2838.0 1310.7 2830.3C1311.8 2822.6 1314.7 2800.8 1315.9 2795.6C1317.2 2790.3 1319.9 2785.2 1321.1 2785.2C1322.4 2785.1 1325.2 2789.6 1326.4 2794.9C1327.5 2800.2 1329.9 2822.5 1330.9 2830.3C1331.9 2838.1 1334.1 2856.8 1335.0 2861.6C1336.0 2866.4 1338.2 2871.1 1339.2 2871.3C1340.2 2871.5 1342.8 2864.5 1343.7 2863.3C1344.7 2862.1 1343.8 2861.1 1347.2 2860.9C1350.6 2860.6 1368.3 2861.1 1373.3 2861.2C1378.2 2861.3 1384.0 2861.5 1390.0 2861.6C1396.0 2861.7 1417.8 2862.2 1424.7 2862.3C1431.7 2862.4 1446.4 2861.7 1449.7 2862.3C1453.1 2862.8 1452.4 2865.9 1453.2 2866.8C1454.0 2867.7 1456.0 2870.5 1456.7 2869.9C1457.4 2869.3 1458.6 2865.8 1459.5 2861.6C1460.3 2857.4 1462.9 2840.1 1464.0 2833.8C1465.1 2827.5 1468.0 2811.5 1469.2 2807.7C1470.4 2804.0 1473.2 2801.8 1474.4 2801.8C1475.6 2801.8 1478.2 2803.6 1479.3 2807.7C1480.4 2811.9 1482.7 2830.8 1483.8 2837.3C1484.8 2843.7 1487.3 2859.6 1488.3 2863.3C1489.3 2867.0 1491.4 2869.2 1492.5 2869.2C1493.6 2869.2 1496.5 2864.1 1497.7 2863.3C1498.9 2862.5 1499.2 2862.3 1502.9 2862.3C1506.5 2862.2 1524.4 2862.8 1528.9 2863.0C1533.5 2863.1 1539.6 2864.2 1541.8 2863.7C1544.0 2863.1 1546.5 2859.4 1548.0 2858.1C1549.6 2856.8 1553.6 2853.6 1555.0 2852.9C1556.4 2852.2 1558.8 2851.9 1560.2 2852.2C1561.6 2852.5 1565.5 2854.0 1567.2 2855.3C1568.8 2856.6 1572.6 2861.4 1574.1 2863.3C1575.6 2865.2 1579.2 2871.5 1580.4 2871.3C1581.5 2871.1 1582.9 2865.5 1583.8 2861.6C1584.7 2857.6 1586.9 2842.5 1588.0 2837.3C1589.1 2832.0 1592.0 2819.5 1593.2 2816.4C1594.4 2813.4 1597.3 2811.2 1598.4 2811.2C1599.6 2811.2 1601.9 2813.6 1602.9 2816.4C1603.9 2819.3 1606.1 2831.1 1607.1 2835.5C1608.1 2840.0 1610.4 2851.9 1611.3 2854.6C1612.2 2857.3 1613.8 2859.6 1614.7 2858.8C1615.7 2858.0 1618.2 2850.0 1619.3 2847.7C1620.3 2845.4 1622.5 2840.2 1623.4 2839.0C1624.4 2837.8 1626.2 2836.9 1627.2 2837.3C1628.3 2837.7 1630.9 2840.2 1632.1 2842.5C1633.3 2844.7 1636.2 2853.7 1637.3 2856.4C1638.5 2859.1 1640.7 2864.6 1641.8 2865.7C1643.0 2866.9 1644.0 2866.5 1647.0 2866.4C1650.1 2866.4 1662.6 2865.2 1667.9 2865.1C1673.2 2864.9 1688.4 2865.4 1692.2 2865.1C1696.1 2864.7 1698.7 2862.8 1700.9 2862.3C1703.1 2861.7 1709.1 2860.5 1711.3 2860.5C1713.5 2860.5 1718.0 2861.7 1720.0 2862.3C1722.0 2862.9 1724.6 2865.3 1728.7 2865.7C1732.7 2866.2 1746.6 2865.7 1754.7 2865.7C1762.8 2865.8 1792.3 2866.9 1798.1 2866.4C1804.0 2866.0 1803.5 2862.6 1805.1 2861.6C1806.7 2860.5 1810.4 2858.1 1812.0 2857.4C1813.7 2856.8 1817.4 2855.9 1819.0 2856.0C1820.6 2856.2 1824.3 2857.7 1825.9 2858.8C1827.6 2859.9 1831.5 2864.1 1832.9 2865.1C1834.3 2866.0 1835.1 2866.6 1838.1 2866.8C1841.1 2866.9 1852.5 2866.5 1858.9 2866.4C1865.4 2866.4 1889.3 2866.1 1893.7 2866.1C1896.5 2866.1 1896.2 2866.1 1896.5 2866.1"/>
<path class="c" stroke="#000000" d="M184.3 2482.1C188.5 2481.0 211.2 2474.2 220.1 2472.1C228.9 2470.0 250.8 2465.5 260.2 2464.1C269.5 2462.7 290.9 2460.7 300.2 2460.1C309.6 2459.4 331.0 2458.6 340.3 2458.5C349.7 2458.3 371.0 2458.6 380.4 2458.9C389.8 2459.2 411.1 2460.4 420.5 2461.3C429.8 2462.1 451.2 2464.8 460.6 2466.1C469.9 2467.4 491.3 2470.9 500.6 2472.5C510.0 2474.1 531.4 2478.2 540.7 2480.1C550.1 2482.0 571.4 2486.7 580.8 2488.9C590.2 2491.1 611.5 2496.6 620.9 2499.0C630.2 2501.3 651.6 2506.6 661.0 2509.0C670.3 2511.4 691.7 2517.1 701.0 2519.4C710.4 2521.7 729.6 2526.5 741.1 2529.0C752.7 2531.6 788.5 2539.0 800.1 2541.3C811.6 2543.6 830.8 2547.1 840.2 2548.5C849.5 2549.9 870.9 2552.5 880.2 2553.3C889.6 2554.2 911.0 2555.3 920.3 2555.8C929.7 2556.2 951.0 2556.8 960.4 2557.0C969.8 2557.1 991.1 2557.2 1000.5 2557.4C1009.8 2557.5 1031.2 2558.2 1040.6 2558.6C1049.9 2558.9 1071.3 2560.0 1080.6 2560.6C1090.0 2561.1 1111.4 2562.7 1120.7 2563.4C1130.1 2564.1 1151.4 2565.9 1160.8 2566.6C1170.2 2567.3 1191.5 2568.7 1200.9 2569.4C1210.2 2570.0 1231.6 2571.6 1241.0 2572.2C1250.3 2572.8 1271.7 2574.1 1281.0 2574.6C1290.4 2575.1 1304.9 2576.0 1321.1 2576.6C1337.4 2577.2 1399.3 2578.9 1420.2 2579.4C1441.1 2579.9 1481.6 2580.8 1500.3 2581.0C1519.0 2581.2 1561.8 2581.1 1580.5 2581.0C1599.2 2580.9 1641.9 2580.2 1660.6 2580.2C1679.3 2580.2 1726.8 2580.4 1740.8 2580.6C1754.8 2580.8 1771.5 2581.4 1780.9 2581.8C1790.2 2582.2 1811.6 2583.3 1821.0 2583.8C1830.3 2584.3 1852.6 2585.7 1861.0 2586.2C1869.5 2586.7 1889.0 2588.0 1893.1 2588.2C1896.5 2588.5 1896.1 2588.2 1896.5 2588.2"/>
<path class="c" stroke="#FF0000" d="M184.3 2356.2C188.5 2356.3 211.2 2357.1 220.1 2357.4C228.9 2357.6 250.8 2358.4 260.2 2358.6C269.5 2358.7 291.8 2359.0 300.2 2359.0C308.7 2358.9 326.2 2358.5 332.3 2358.2C338.4 2357.8 348.1 2356.9 352.3 2356.2C356.6 2355.5 364.6 2353.5 368.4 2352.1C372.1 2350.7 380.7 2346.5 384.4 2344.1C388.1 2341.8 397.2 2335.0 400.4 2332.1C403.7 2329.2 409.9 2321.8 412.5 2319.3C415.0 2316.8 420.2 2311.9 422.5 2310.5C424.7 2309.1 429.6 2307.3 431.7 2307.3C433.8 2307.2 438.1 2308.4 440.5 2309.7C443.0 2311.0 449.3 2316.0 452.5 2318.5C455.8 2321.0 464.8 2328.8 468.6 2331.3C472.3 2333.8 480.9 2338.5 484.6 2340.1C488.4 2341.8 496.0 2344.2 500.6 2345.3C505.3 2346.5 518.1 2348.9 524.7 2350.1C531.2 2351.4 549.3 2354.6 556.8 2356.2C564.2 2357.7 581.3 2361.8 588.8 2363.4C596.3 2365.0 612.5 2368.3 620.9 2369.8C629.3 2371.3 651.6 2374.8 661.0 2376.2C670.3 2377.5 691.7 2380.3 701.0 2381.4C710.4 2382.5 724.9 2383.8 741.1 2385.4C757.4 2387.0 819.3 2393.1 840.2 2394.9C861.1 2396.7 901.6 2399.6 920.3 2400.9C939.0 2402.2 981.8 2405.1 1000.5 2406.1C1019.2 2407.2 1061.9 2409.3 1080.6 2410.1C1099.3 2411.0 1142.1 2413.0 1160.8 2413.7C1179.5 2414.5 1222.3 2416.3 1241.0 2417.0C1259.7 2417.6 1295.5 2418.7 1321.1 2419.4C1346.7 2420.0 1430.0 2422.0 1460.2 2422.6C1490.5 2423.1 1552.4 2423.9 1580.5 2424.2C1608.5 2424.4 1664.2 2424.8 1700.7 2425.0C1737.2 2425.1 1870.3 2425.3 1893.1 2425.4C1896.5 2425.4 1896.1 2425.4 1896.5 2425.4"/>
<path class="c" stroke="#FF7F0E" d="M184.3 2216.1C188.5 2216.8 211.2 2220.7 220.1 2222.1C228.9 2223.5 250.8 2226.8 260.2 2228.1C269.5 2229.4 290.9 2231.9 300.2 2232.9C309.6 2233.9 331.0 2236.1 340.3 2236.9C349.7 2237.8 371.0 2239.4 380.4 2240.1C389.8 2240.8 411.1 2242.3 420.5 2242.9C429.8 2243.5 451.2 2244.8 460.6 2245.3C469.9 2245.8 491.3 2246.9 500.6 2247.3C510.0 2247.8 531.4 2248.9 540.7 2249.3C550.1 2249.8 571.4 2250.6 580.8 2250.9C590.2 2251.3 611.5 2252.0 620.9 2252.1C630.2 2252.3 654.5 2252.5 661.0 2252.5C667.4 2252.5 672.5 2252.3 676.0 2252.1C679.6 2252.0 689.3 2251.0 691.3 2251.3C692.9 2251.7 692.5 2253.9 692.9 2255.4C693.2 2256.8 694.0 2262.0 694.5 2263.4C694.9 2264.8 696.0 2268.1 696.6 2267.4C697.1 2266.6 698.3 2261.5 698.8 2257.0C699.3 2252.4 700.4 2237.1 700.9 2228.1C701.4 2219.1 702.7 2186.3 703.0 2180.0C703.3 2173.7 703.4 2175.2 703.5 2173.7C703.7 2172.2 704.0 2168.7 704.1 2167.1C704.2 2165.6 704.5 2162.0 704.6 2160.4C704.8 2158.9 705.1 2155.2 705.2 2153.6C705.3 2152.0 705.6 2148.3 705.8 2146.7C705.9 2145.1 706.2 2141.4 706.3 2139.8C706.5 2138.2 706.8 2134.5 706.9 2132.9C707.0 2131.3 707.3 2127.7 707.5 2126.2C707.6 2124.6 707.9 2121.1 708.0 2119.6C708.1 2118.0 708.4 2114.6 708.6 2113.2C708.7 2111.7 709.0 2108.4 709.1 2107.1C709.3 2105.7 709.6 2102.6 709.7 2101.3C709.8 2100.0 710.1 2097.2 710.3 2096.0C710.4 2094.8 710.7 2092.2 710.8 2091.2C711.0 2090.1 711.3 2087.8 711.4 2086.8C711.5 2085.9 711.8 2083.9 711.9 2083.1C712.1 2082.3 712.4 2080.7 712.5 2080.0C712.6 2079.4 712.9 2078.1 713.1 2077.6C713.2 2077.1 713.5 2076.2 713.6 2075.8C713.8 2075.5 714.1 2075.0 714.2 2074.8C714.3 2074.6 714.6 2074.5 714.7 2074.5C714.9 2074.5 715.2 2074.8 715.3 2075.0C715.4 2075.2 715.7 2076.0 715.9 2076.4C716.0 2076.8 716.3 2078.0 716.4 2078.6C716.6 2079.3 716.9 2080.9 717.0 2081.7C717.1 2082.5 717.4 2084.5 717.6 2085.5C717.7 2086.5 718.0 2088.9 718.1 2090.1C718.2 2091.2 718.5 2094.0 718.7 2095.3C718.8 2096.5 719.1 2099.6 719.2 2101.0C719.4 2102.5 719.7 2105.8 719.8 2107.3C719.9 2108.8 720.2 2112.4 720.4 2114.0C720.5 2115.6 720.8 2119.4 720.9 2121.1C721.1 2122.8 721.4 2126.7 721.5 2128.4C721.6 2130.1 721.9 2134.1 722.0 2135.9C722.2 2137.6 722.5 2141.7 722.6 2143.4C722.7 2145.2 723.0 2149.2 723.2 2151.0C723.3 2152.7 723.6 2156.8 723.7 2158.5C723.9 2160.2 724.2 2164.2 724.3 2165.9C724.4 2167.6 724.7 2171.4 724.8 2173.1C725.0 2174.7 725.1 2175.4 725.4 2180.0C725.7 2184.6 726.8 2203.6 727.3 2212.1C727.8 2220.5 729.3 2245.9 729.7 2252.1C730.2 2258.4 731.0 2263.9 731.3 2265.8C731.7 2267.6 732.5 2268.5 732.9 2267.9C733.4 2267.2 734.8 2262.0 735.4 2260.2C735.9 2258.3 736.7 2253.2 737.3 2252.1C737.8 2251.1 738.0 2251.2 740.2 2251.0C742.4 2250.9 754.1 2250.5 756.2 2251.0C758.1 2251.5 757.6 2253.9 758.1 2255.4C758.6 2256.8 759.8 2262.2 760.2 2263.4C760.6 2264.5 761.4 2266.1 761.8 2265.0C762.2 2263.8 763.4 2259.0 763.9 2253.7C764.4 2248.5 765.3 2228.7 765.8 2220.1C766.4 2211.5 768.3 2185.2 768.7 2180.0C769.1 2174.8 769.1 2176.6 769.2 2175.6C769.3 2174.5 769.6 2172.2 769.7 2171.1C769.9 2170.1 770.1 2167.7 770.3 2166.7C770.4 2165.6 770.7 2163.3 770.8 2162.2C770.9 2161.2 771.2 2158.9 771.3 2157.9C771.4 2156.8 771.7 2154.5 771.8 2153.5C771.9 2152.5 772.2 2150.3 772.3 2149.3C772.5 2148.4 772.7 2146.2 772.9 2145.3C773.0 2144.3 773.3 2142.2 773.4 2141.3C773.5 2140.4 773.8 2138.5 773.9 2137.6C774.0 2136.8 774.3 2134.9 774.4 2134.1C774.6 2133.3 774.8 2131.6 774.9 2130.9C775.1 2130.2 775.3 2128.6 775.5 2127.9C775.6 2127.3 775.9 2125.8 776.0 2125.2C776.1 2124.7 776.4 2123.4 776.5 2122.9C776.6 2122.4 776.9 2121.3 777.0 2120.9C777.2 2120.5 777.4 2119.6 777.6 2119.2C777.7 2118.9 778.0 2118.2 778.1 2118.0C778.2 2117.7 778.5 2117.3 778.6 2117.1C778.7 2116.9 779.0 2116.7 779.1 2116.6C779.2 2116.5 779.5 2116.5 779.6 2116.5C779.8 2116.5 780.0 2116.7 780.2 2116.9C780.3 2117.0 780.6 2117.4 780.7 2117.7C780.8 2117.9 781.1 2118.6 781.2 2118.9C781.3 2119.3 781.6 2120.2 781.7 2120.6C781.8 2121.1 782.1 2122.2 782.2 2122.8C782.4 2123.3 782.6 2124.6 782.8 2125.3C782.9 2125.9 783.2 2127.4 783.3 2128.2C783.4 2128.9 783.7 2130.6 783.8 2131.4C783.9 2132.2 784.2 2134.1 784.3 2134.9C784.5 2135.8 784.7 2137.8 784.8 2138.8C785.0 2139.7 785.2 2141.9 785.4 2142.8C785.5 2143.8 785.8 2146.1 785.9 2147.1C786.0 2148.2 786.3 2150.5 786.4 2151.6C786.5 2152.7 786.8 2155.1 786.9 2156.2C787.1 2157.3 787.3 2159.8 787.5 2160.9C787.6 2162.0 787.9 2164.5 788.0 2165.7C788.1 2166.8 788.4 2169.3 788.5 2170.5C788.6 2171.6 788.9 2174.1 789.0 2175.2C789.1 2176.4 789.3 2175.7 789.5 2180.0C789.8 2184.3 790.9 2204.0 791.5 2212.1C792.1 2220.1 794.1 2243.2 794.7 2248.9C795.2 2254.6 795.9 2260.1 796.3 2261.0C796.7 2261.8 797.6 2256.4 798.2 2256.2C798.8 2255.9 800.5 2257.5 801.1 2258.6C801.6 2259.6 802.5 2263.8 803.0 2265.0C803.5 2266.1 804.6 2268.7 805.1 2268.2C805.6 2267.6 806.7 2264.8 807.2 2260.2C807.6 2255.5 808.5 2237.4 809.1 2228.1C809.7 2218.7 811.6 2186.9 812.0 2180.0C812.4 2173.1 812.4 2171.6 812.6 2169.0C812.7 2166.3 813.0 2159.8 813.2 2156.9C813.3 2154.0 813.6 2147.1 813.8 2144.0C813.9 2140.9 814.2 2133.5 814.4 2130.2C814.5 2126.9 814.8 2119.1 815.0 2115.7C815.1 2112.2 815.5 2104.1 815.6 2100.6C815.7 2097.0 816.1 2088.7 816.2 2085.0C816.3 2081.4 816.7 2073.0 816.8 2069.3C816.9 2065.6 817.3 2057.2 817.4 2053.6C817.5 2049.9 817.9 2041.6 818.0 2038.1C818.1 2034.5 818.5 2026.5 818.6 2023.2C818.7 2019.8 819.1 2012.2 819.2 2009.0C819.3 2005.8 819.7 1998.8 819.8 1995.9C819.9 1993.0 820.3 1986.7 820.4 1984.1C820.5 1981.5 820.9 1976.0 821.0 1973.9C821.1 1971.7 821.5 1967.2 821.6 1965.4C821.7 1963.7 822.1 1960.2 822.2 1958.9C822.3 1957.6 822.7 1955.3 822.8 1954.5C822.9 1953.7 823.3 1952.5 823.4 1952.3C823.5 1952.0 823.9 1952.0 824.0 1952.3C824.1 1952.5 824.5 1953.6 824.6 1954.3C824.7 1955.0 825.1 1957.2 825.2 1958.4C825.4 1959.5 825.7 1962.7 825.8 1964.3C826.0 1965.9 826.3 1970.0 826.4 1972.0C826.6 1974.0 826.9 1979.0 827.0 1981.4C827.2 1983.7 827.5 1989.5 827.6 1992.2C827.8 1994.9 828.1 2001.3 828.2 2004.3C828.4 2007.2 828.7 2014.2 828.8 2017.4C829.0 2020.5 829.3 2028.0 829.4 2031.3C829.6 2034.6 829.9 2042.4 830.0 2045.8C830.2 2049.2 830.5 2057.1 830.6 2060.6C830.8 2064.1 831.1 2072.1 831.2 2075.6C831.4 2079.1 831.7 2087.1 831.8 2090.5C832.0 2093.9 832.3 2101.8 832.4 2105.1C832.6 2108.5 832.9 2116.1 833.0 2119.4C833.2 2122.6 833.5 2129.9 833.6 2133.0C833.8 2136.1 834.1 2143.0 834.2 2146.0C834.4 2148.9 834.7 2155.4 834.8 2158.2C835.0 2160.9 835.3 2167.0 835.4 2169.5C835.6 2172.1 835.7 2173.2 836.0 2180.0C836.4 2186.8 837.8 2217.6 838.3 2228.1C838.8 2238.6 839.9 2264.1 840.4 2269.8C840.8 2275.5 841.5 2277.0 842.0 2277.0C842.4 2277.0 843.6 2272.1 844.0 2269.8C844.5 2267.4 845.5 2258.7 846.0 2257.0C846.4 2255.2 847.1 2254.9 847.9 2254.5C848.6 2254.2 850.0 2253.7 852.4 2254.1C854.8 2254.4 864.7 2257.1 868.4 2257.8C872.2 2258.4 879.0 2259.2 884.4 2259.7C889.9 2260.1 905.1 2261.3 914.7 2261.7C924.3 2262.1 954.7 2262.9 966.8 2263.1C979.0 2263.3 1006.4 2263.5 1018.9 2263.5C1031.5 2263.4 1067.4 2263.0 1074.5 2262.8C1079.7 2262.6 1078.8 2261.4 1079.7 2261.7C1080.7 2262.1 1081.8 2266.4 1082.5 2265.9C1083.2 2265.4 1084.7 2262.1 1085.6 2257.2C1086.5 2252.3 1089.0 2230.7 1090.2 2224.2C1091.3 2217.7 1094.2 2204.8 1095.4 2201.6C1096.5 2198.5 1098.7 2196.9 1099.9 2197.1C1101.0 2197.3 1103.9 2199.4 1105.1 2203.4C1106.3 2207.3 1108.9 2224.9 1110.0 2231.2C1111.0 2237.4 1113.5 2253.1 1114.5 2257.2C1115.4 2261.3 1117.1 2265.9 1117.9 2266.6C1118.8 2267.3 1117.9 2263.4 1122.1 2263.1C1126.8 2262.8 1145.6 2264.0 1157.9 2264.2C1170.2 2264.3 1213.2 2264.5 1227.4 2264.5C1241.5 2264.5 1271.6 2264.0 1279.5 2263.8C1287.4 2263.6 1292.6 2262.4 1295.1 2262.8C1297.6 2263.1 1299.9 2267.0 1301.0 2266.6C1302.1 2266.1 1303.5 2264.7 1304.5 2258.9C1305.4 2253.2 1307.8 2227.0 1309.0 2217.3C1310.2 2207.5 1313.6 2181.7 1314.9 2175.6C1316.2 2169.5 1319.2 2165.4 1320.5 2165.2C1321.7 2165.0 1324.4 2168.2 1325.7 2173.8C1326.9 2179.5 1329.7 2204.5 1330.9 2213.8C1332.1 2223.1 1334.6 2247.5 1335.7 2253.7C1336.8 2260.0 1339.2 2266.2 1340.3 2267.3C1341.3 2268.4 1340.9 2263.5 1344.8 2263.1C1348.6 2262.7 1368.0 2263.9 1373.3 2264.2C1378.5 2264.4 1384.0 2265.2 1390.0 2265.2C1396.0 2265.2 1417.8 2264.1 1424.7 2263.8C1431.6 2263.5 1445.4 2262.6 1449.1 2262.4C1452.7 2262.3 1454.8 2263.4 1456.0 2262.4C1457.2 2261.4 1458.5 2259.4 1459.5 2253.7C1460.5 2248.1 1463.5 2221.7 1464.7 2213.8C1465.9 2205.9 1468.8 2189.8 1469.9 2186.0C1471.0 2182.1 1473.4 2180.6 1474.4 2180.8C1475.5 2181.0 1477.8 2183.1 1478.9 2187.7C1480.0 2192.4 1482.7 2212.8 1483.8 2220.7C1484.9 2228.6 1487.4 2250.4 1488.3 2255.5C1489.2 2260.5 1490.7 2263.3 1491.8 2264.2C1492.9 2265.0 1493.3 2262.5 1497.7 2262.4C1502.0 2262.4 1523.8 2263.6 1528.9 2263.8C1534.1 2264.1 1539.6 2265.1 1541.8 2264.5C1544.0 2263.9 1546.5 2260.4 1548.0 2258.9C1549.6 2257.5 1553.5 2253.0 1555.0 2252.0C1556.5 2251.0 1559.5 2250.4 1560.9 2250.6C1562.3 2250.8 1565.7 2252.6 1567.2 2253.7C1568.6 2254.9 1572.1 2259.6 1573.4 2260.7C1574.7 2261.8 1577.6 2263.5 1578.6 2263.1C1579.6 2262.7 1581.2 2260.5 1582.1 2257.2C1583.0 2253.9 1585.2 2240.5 1586.3 2234.6C1587.4 2228.8 1590.3 2211.5 1591.5 2206.8C1592.7 2202.2 1595.8 2196.2 1596.7 2194.7C1597.6 2193.2 1598.4 2193.4 1599.1 2194.0C1599.8 2194.6 1601.7 2196.8 1602.6 2199.9C1603.5 2203.0 1606.1 2216.1 1607.1 2220.7C1608.1 2225.4 1610.4 2237.0 1611.3 2239.8C1612.2 2242.7 1613.8 2245.3 1614.7 2245.1C1615.7 2244.8 1618.2 2239.6 1619.3 2238.1C1620.3 2236.6 1622.5 2232.7 1623.4 2231.9C1624.4 2231.0 1626.3 2230.6 1627.2 2231.2C1628.2 2231.7 1630.3 2233.9 1631.4 2236.4C1632.5 2238.8 1635.4 2248.9 1636.6 2252.0C1637.8 2255.1 1640.6 2261.5 1641.8 2263.1C1643.1 2264.7 1644.0 2265.5 1647.0 2265.9C1650.1 2266.3 1663.0 2266.5 1667.9 2266.6C1672.8 2266.7 1685.3 2267.1 1688.7 2266.9C1692.2 2266.8 1695.6 2265.8 1697.4 2265.2C1699.2 2264.6 1702.7 2262.3 1704.4 2261.7C1706.0 2261.2 1709.7 2260.3 1711.3 2260.3C1712.9 2260.4 1716.4 2261.7 1718.3 2262.4C1720.1 2263.1 1724.7 2265.9 1726.9 2266.6C1729.2 2267.2 1732.1 2267.8 1737.4 2268.0C1742.6 2268.1 1765.0 2268.0 1772.1 2268.0C1779.2 2267.9 1794.3 2268.2 1798.1 2267.6C1802.0 2267.1 1803.5 2264.1 1805.1 2263.1C1806.7 2262.1 1810.5 2259.6 1812.0 2258.9C1813.5 2258.3 1816.5 2257.5 1817.9 2257.6C1819.4 2257.6 1822.7 2258.7 1824.2 2259.6C1825.7 2260.5 1829.5 2264.1 1831.1 2265.2C1832.8 2266.3 1834.9 2268.3 1838.1 2268.7C1841.3 2269.0 1852.5 2268.3 1858.9 2268.3C1865.4 2268.3 1889.3 2268.6 1893.7 2268.7C1896.5 2268.7 1896.2 2268.7 1896.5 2268.7"/>
<rect class="ax" x="184.3" y="1625.2" width="1713.2" height="1343.1"/>
<path class="tk" d="M184.3 2968.3v26M428.3 2968.3v26M672.2 2968.3v26M916.2 2968.3v26M1160.1 2968.3v26M1404.1 2968.3v26M1648.0 2968.3v26M1892.0 2968.3v26M306.3 2968.3v13.5M550.2 2968.3v13.5M794.2 2968.3v13.5M1038.2 2968.3v13.5M1282.1 2968.3v13.5M1526.1 2968.3v13.5M1770.0 2968.3v13.5"/>
<text x="184.3" y="3066.0" font-size="65.8" text-anchor="middle" textLength="86.0" lengthAdjust="spacingAndGlyphs">10</text>
<text x="428.3" y="3066.0" font-size="65.8" text-anchor="middle" textLength="86.0" lengthAdjust="spacingAndGlyphs">20</text>
<text x="672.2" y="3066.0" font-size="65.8" text-anchor="middle" textLength="86.0" lengthAdjust="spacingAndGlyphs">30</text>
<text x="916.2" y="3066.0" font-size="65.8" text-anchor="middle" textLength="86.0" lengthAdjust="spacingAndGlyphs">40</text>
<text x="1160.1" y="3066.0" font-size="65.8" text-anchor="middle" textLength="86.0" lengthAdjust="spacingAndGlyphs">50</text>
<text x="1404.1" y="3066.0" font-size="65.8" text-anchor="middle" textLength="86.0" lengthAdjust="spacingAndGlyphs">60</text>
<text x="1648.0" y="3066.0" font-size="65.8" text-anchor="middle" textLength="86.0" lengthAdjust="spacingAndGlyphs">70</text>
<text x="1892.0" y="3066.0" font-size="65.8" text-anchor="middle" textLength="86.0" lengthAdjust="spacingAndGlyphs">80</text>
<text y="3170" font-size="66"><tspan x="876">2</tspan><tspan class="sf" font-size="70" x="925">θ</tspan><tspan x="960" textLength="283" lengthAdjust="spacingAndGlyphs">(degree)</tspan></text>
<text transform="translate(97.5 2513.5) rotate(-90)" font-size="70" textLength="491" lengthAdjust="spacingAndGlyphs">Intensity (a.u.)</text>
<path class="c" stroke="#000000" d="M205.7 1669.7H365.3"/>
<text x="380.4" y="1693.0" font-size="56.0" textLength="209.4" lengthAdjust="spacingAndGlyphs">Biochar</text>
<path class="c" stroke="#FF7F0E" d="M205.7 1755.3H365.3"/>
<text x="380.4" y="1778.4" font-size="56.0" textLength="78.0" lengthAdjust="spacingAndGlyphs">BZ</text>
<path class="c" stroke="#0000FF" d="M205.7 1840.9H365.3"/>
<text x="379.4" y="1865.0" font-size="56.0" textLength="75.8" lengthAdjust="spacingAndGlyphs">CZ</text>
<path class="c" stroke="#FF0000" d="M205.7 1926.5H365.3"/>
<text x="380.4" y="1950.7" font-size="56.0" textLength="76.0" lengthAdjust="spacingAndGlyphs">BC</text>
<text class="sf" y="1754.6" font-size="116"><tspan x="961.7" textLength="33.5" lengthAdjust="spacingAndGlyphs">(</tspan><tspan x="996.4" textLength="67.3" lengthAdjust="spacingAndGlyphs">B</tspan><tspan x="1066.5" textLength="33.5" lengthAdjust="spacingAndGlyphs">)</tspan></text>
</g>
</svg></body></html>
